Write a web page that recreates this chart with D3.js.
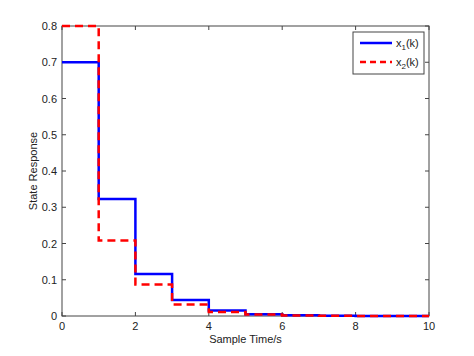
<!DOCTYPE html>
<html><head><meta charset="utf-8">
<script src="https://cdn.jsdelivr.net/npm/d3@7"></script>
<style>body{margin:0;background:#fff}svg text{font-family:"Liberation Sans",Arial,sans-serif}</style>
</head><body><svg id="c" width="474" height="356"></svg>
<script>
const steps = [0,1,2,3,4,5,6,7,8,9];
const x1 = [0.7, 0.323, 0.116, 0.044, 0.015, 0.005, 0.002, 0.0006, 0.0002, 0.0001];
const x2 = [0.8, 0.208, 0.087, 0.032, 0.011, 0.004, 0.0013, 0.0004, 0.0001, 0.00004];
const xTicks = [0,2,4,6,8,10];
const yTicks = [0,0.1,0.2,0.3,0.4,0.5,0.6,0.7,0.8];
const seriesNames = ["x1", "x2"];

const svg = d3.select("#c");
const L=62,R=429,T=26,B=316;
const x = d3.scaleLinear().domain([0,10]).range([L,R]);
const y = d3.scaleLinear().domain([0,0.8]).range([B,T]);

svg.append("rect").attr("x",L).attr("y",T).attr("width",R-L).attr("height",B-T).attr("fill","#fff").attr("stroke","#444").attr("stroke-width",1);

const ax = svg.append("g").attr("font-size",11).attr("fill","#222");
xTicks.forEach(t=>{
  ax.append("line").attr("x1",x(t)).attr("x2",x(t)).attr("y1",B).attr("y2",B-4).attr("stroke","#444");
  ax.append("line").attr("x1",x(t)).attr("x2",x(t)).attr("y1",T).attr("y2",T+4).attr("stroke","#444");
  ax.append("text").attr("x",x(t)).attr("y",B+14).attr("text-anchor","middle").text(t);
});
yTicks.forEach(t=>{
  ax.append("line").attr("x1",L).attr("x2",L+4).attr("y1",y(t)).attr("y2",y(t)).attr("stroke","#444");
  ax.append("line").attr("x1",R).attr("x2",R-4).attr("y1",y(t)).attr("y2",y(t)).attr("stroke","#444");
  ax.append("text").attr("x",L-5).attr("y",y(t)+4).attr("text-anchor","end").text(d3.format("")(+t.toFixed(1)));
});
ax.append("text").attr("x",(L+R)/2).attr("y",343).attr("text-anchor","middle").text("Sample Time/s");
ax.append("text").attr("transform",`translate(37,${(T+B)/2}) rotate(-90)`).attr("text-anchor","middle").text("State Response");

const line = d3.line().x(d=>x(d[0])).y(d=>y(d[1])).curve(d3.curveStepAfter);
function pts(v){ const p = steps.map((s,i)=>[s,v[i]]); p.push([10,v[v.length-1]]); return p; }
svg.append("path").attr("d",line(pts(x1))).attr("fill","none").attr("stroke","#0000ff").attr("stroke-width",2.5);
svg.append("path").attr("d",line(pts(x2))).attr("fill","none").attr("stroke","#ff0000").attr("stroke-width",2.5).attr("stroke-dasharray","8,5");

// legend
const lg = svg.append("g");
lg.append("rect").attr("x",353).attr("y",32).attr("width",71).attr("height",42).attr("fill","#fff").attr("stroke","#444");
const items=[{c:"#0000ff",d:null,y:43},{c:"#ff0000",d:"6,4",y:62}];
items.forEach((it,i)=>{
  const l=lg.append("line").attr("x1",360).attr("x2",392).attr("y1",it.y).attr("y2",it.y).attr("stroke",it.c).attr("stroke-width",2.5);
  if(it.d) l.attr("stroke-dasharray",it.d);
  const t=lg.append("text").attr("x",396).attr("y",it.y+4).attr("font-size",11).attr("fill","#222");
  t.append("tspan").text("x");
  t.append("tspan").attr("font-size",8).attr("dy",3).text(String(i+1));
  t.append("tspan").attr("dy",-3).text("(k)");
});
</script></body></html>
